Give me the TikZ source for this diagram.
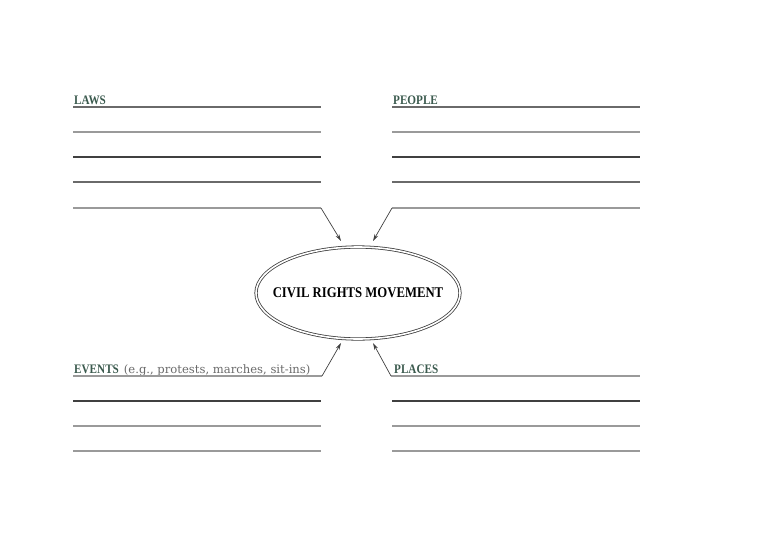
\documentclass[tikz,border=0pt]{standalone}
\usepackage{fontspec}
\setmainfont{Liberation Serif}
\newfontfamily\wideserif{DejaVu Serif}
\usetikzlibrary{arrows.meta,shapes.geometric}
\definecolor{hdr}{HTML}{3B5A4E}
\definecolor{lgray}{HTML}{9A9A9A}
\definecolor{mgray}{HTML}{6A6A6A}
\definecolor{dgray}{HTML}{404040}
\newcommand{\condbold}[2]{\scalebox{0.86}[1]{\fontsize{#1}{#1}\selectfont\bfseries #2}}
\tikzset{
  writeline/.style={draw=lgray, line width=1.1pt},
  darkline/.style={draw=dgray, line width=1.1pt},
  midline/.style={draw=mgray, line width=1.1pt},
  hdrtext/.style={anchor=base west, inner sep=0pt, text=hdr},
  pointer/.style={draw=dgray, line width=0.7pt, -{Stealth[length=7pt,width=4pt]}},
  ringstyle/.style={draw=dgray, line width=0.8pt, double=white, double distance=1.6pt},
}
\begin{document}
\begin{tikzpicture}[x=1pt,y=-1pt]
\useasboundingbox (0,0) rectangle (768,543);
% centre
\node[inner sep=0pt] (c) at (358,293) {\condbold{14.8}{CIVIL RIGHTS MOVEMENT}};
\draw[ringstyle] (c.center) ellipse [x radius=102, y radius=46];
% arrow targets
\coordinate (t1) at (341,241);
\coordinate (t2) at (373,241);
\coordinate (t3) at (341,343);
\coordinate (t4) at (373,343);
% LAWS
\node[hdrtext] (laws) at (74,104) {\condbold{13}{LAWS}};
\coordinate (l1a) at (73,107); \coordinate (l1b) at (321,107);
\coordinate (l2a) at (73,132); \coordinate (l2b) at (321,132);
\coordinate (l3a) at (73,157); \coordinate (l3b) at (321,157);
\coordinate (l4a) at (73,182); \coordinate (l4b) at (321,182);
\coordinate (l5a) at (73,208); \coordinate (l5b) at (321,208);
\draw[midline] (l1a) -- (l1b);
\draw[writeline] (l2a) -- (l2b);
\draw[darkline] (l3a) -- (l3b);
\draw[midline] (l4a) -- (l4b);
\draw[writeline] (l5a) -- (l5b);
\draw[pointer] (l5b) -- (t1);
% PEOPLE
\node[hdrtext] (people) at (393,104) {\condbold{13}{PEOPLE}};
\coordinate (p1a) at (392,107); \coordinate (p1b) at (640,107);
\coordinate (p2a) at (392,132); \coordinate (p2b) at (640,132);
\coordinate (p3a) at (392,157); \coordinate (p3b) at (640,157);
\coordinate (p4a) at (392,182); \coordinate (p4b) at (640,182);
\coordinate (p5a) at (392,208); \coordinate (p5b) at (640,208);
\draw[midline] (p1a) -- (p1b);
\draw[writeline] (p2a) -- (p2b);
\draw[darkline] (p3a) -- (p3b);
\draw[midline] (p4a) -- (p4b);
\draw[writeline] (p5a) -- (p5b);
\draw[pointer] (p5a) -- (t2);
% EVENTS
\node[hdrtext] (events) at (74,373) {\condbold{13}{EVENTS}\hspace{5pt}{\color{mgray}\wideserif\fontsize{11.6}{12}\selectfont (e.g., protests, marches, sit-ins)}};
\coordinate (e1a) at (73,376); \coordinate (e1b) at (322,376);
\coordinate (e2a) at (73,401); \coordinate (e2b) at (321,401);
\coordinate (e3a) at (73,426); \coordinate (e3b) at (321,426);
\coordinate (e4a) at (73,451); \coordinate (e4b) at (321,451);
\draw[writeline] (e1a) -- (e1b);
\draw[darkline] (e2a) -- (e2b);
\draw[writeline] (e3a) -- (e3b);
\draw[writeline] (e4a) -- (e4b);
\draw[pointer] (e1b) -- (t3);
% PLACES
\node[hdrtext] (places) at (394,373) {\condbold{13}{PLACES}};
\coordinate (q1a) at (391,376); \coordinate (q1b) at (640,376);
\coordinate (q2a) at (392,401); \coordinate (q2b) at (640,401);
\coordinate (q3a) at (392,426); \coordinate (q3b) at (640,426);
\coordinate (q4a) at (392,451); \coordinate (q4b) at (640,451);
\draw[writeline] (q1a) -- (q1b);
\draw[darkline] (q2a) -- (q2b);
\draw[writeline] (q3a) -- (q3b);
\draw[writeline] (q4a) -- (q4b);
\draw[pointer] (q1a) -- (t4);
\end{tikzpicture}
\end{document}
